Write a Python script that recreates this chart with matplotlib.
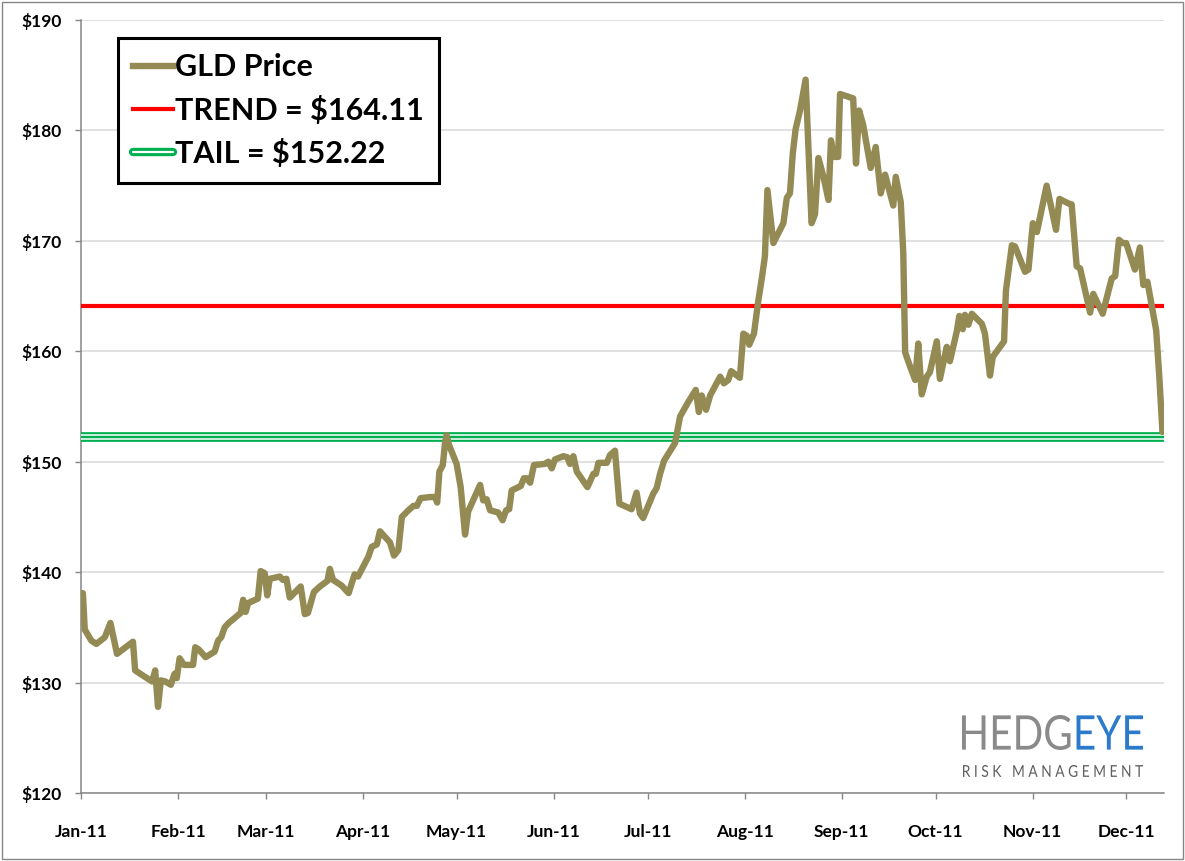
import matplotlib
matplotlib.use("Agg")
import matplotlib.pyplot as plt
from matplotlib.lines import Line2D
from matplotlib.patches import Rectangle, PathPatch
from matplotlib.textpath import TextPath
from matplotlib.font_manager import FontProperties
from matplotlib.transforms import Affine2D
import matplotlib.patheffects as pe
import pandas as pd
import numpy as np

# ---- data ----
start_date = "2011-01-01"
day_offsets = [
    0.6, 1.2, 3.3, 4.9, 7.6, 9.4, 11.5, 16.6, 17.3, 22.7, 23.7, 24.6, 25.5, 26.9, 28.7, 29.9,
    30.6, 31.5, 32.9, 35.8, 36.5, 37.6, 39.8, 42.7, 43.8, 44.8, 45.9, 47.2, 51.0, 51.8, 52.6,
    53.4, 56.5, 57.4, 58.7, 59.5, 60.3, 63.5, 64.5, 65.6, 66.7, 70.2, 71.5, 72.5, 74.4, 76.3,
    78.7, 79.5, 80.5, 83.2, 85.5, 87.4, 88.5,
    91.8, 92.9, 94.5, 95.5, 98.7, 100.0, 101.4, 102.5, 104.6, 106.2, 107.3, 108.5, 111.5,
    113.1, 113.8, 114.5, 115.6, 116.3, 116.8, 117.6, 120.0, 121.3, 122.7, 123.7, 125.9, 127.5,
    128.5, 129.6, 130.7, 133.3, 134.7, 135.8, 136.8, 137.6, 140.5, 141.5, 142.4, 143.5, 144.7,
    148.2, 149.3, 150.4, 151.4, 154.1, 155.4, 156.2, 157.3, 158.4, 161.8, 163.7, 164.5, 165.3,
    168.0, 169.0, 170.6, 172.0, 175.9, 177.5, 178.6, 179.6, 182.8, 183.9, 185.0, 186.3,
    189.8, 191.4, 194.0, 196.4, 197.4, 198.3, 199.7, 201.0, 204.2, 205.4, 206.8, 207.7, 210.5,
    211.6, 212.7, 213.5, 215.0, 216.4, 217.5, 218.5, 219.3, 221.2, 224.4, 225.5, 226.5, 227.4,
    228.3, 229.7, 231.5, 233.4, 234.5, 235.6, 237.2, 238.8, 239.6, 240.6, 241.9, 242.5, 246.7,
    247.6, 248.6, 249.9, 252.3, 253.9, 255.5, 256.9, 259.5, 260.3, 261.9, 262.7,
    263.3, 264.9, 266.5, 267.5, 268.6, 270.2, 271.2, 273.4, 274.4, 276.6, 277.6, 279.8, 280.6,
    281.7, 282.4, 283.5, 284.6, 287.8, 288.8, 290.4, 291.3, 294.9, 295.5, 297.4, 298.4, 301.6,
    302.7, 304.1, 305.4, 308.5, 311.5, 312.6, 315.4, 316.5, 318.1, 319.2, 322.4, 323.4, 326.4,
    329.3, 330.4, 331.6, 332.8, 333.9, 336.7, 338.3, 339.4, 340.7, 343.5, 344.5, 345.5,
]
gld_price = [
    138.1, 134.8, 133.8, 133.5, 134.1, 135.4, 132.6, 133.7, 131.1, 130.1, 131.1, 127.8, 130.2,
    130.1, 129.8, 130.8, 130.4, 132.2, 131.6, 131.6, 133.2, 133.0, 132.3, 132.8, 133.8, 134.1,
    135.0, 135.4, 136.3, 137.5, 136.4, 137.2, 137.6, 140.1, 139.9, 137.9, 139.4, 139.6, 139.3,
    139.4, 137.7, 138.7, 136.2, 136.3, 138.2, 138.7, 139.2, 140.3, 139.3, 138.8, 138.1, 139.8,
    139.6,
    141.4, 142.3, 142.5, 143.7, 142.7, 141.5, 142.0, 145.0, 145.6, 146.0, 146.0, 146.7, 146.8,
    146.8, 146.3, 149.1, 149.7, 151.7, 152.4, 151.5, 149.8, 147.7, 143.4, 145.5, 146.9, 147.9,
    146.5, 146.6, 145.6, 145.4, 144.7, 145.6, 145.7, 147.4, 147.8, 148.5, 148.5, 148.1, 149.7,
    149.8, 150.0, 149.4, 150.2, 150.5, 150.4, 149.8, 150.5, 149.1, 147.7, 148.9, 148.9, 149.9,
    149.9, 150.6, 151.0, 146.2, 145.7, 147.2, 145.3, 144.9, 147.1, 147.6, 148.9, 150.1,
    151.7, 154.1, 155.4, 156.5, 154.5, 156.0, 154.7, 156.0, 157.7, 157.1, 157.4, 158.2, 157.6,
    161.6, 161.4, 160.6, 161.6, 164.6, 166.6, 168.6, 174.6, 169.8, 171.6, 173.9, 174.3, 177.9,
    180.1, 181.8, 184.6, 171.6, 172.4, 177.5, 175.8, 173.7, 179.1, 177.6, 177.6, 183.3, 182.9,
    177.0, 181.8, 180.5, 176.6, 178.5, 174.3, 176.0, 173.2, 175.8, 173.5, 168.9,
    159.9, 158.6, 157.4, 160.7, 156.1, 157.7, 158.1, 160.9, 157.5, 160.4, 159.1, 161.8, 163.2,
    162.0, 163.3, 162.4, 163.4, 162.5, 161.6, 157.8, 159.5, 160.9, 165.5, 169.6, 169.5, 167.2,
    167.4, 171.6, 170.8, 175.0, 171.0, 173.8, 173.4, 173.3, 167.7, 167.5, 163.5, 165.2, 163.4,
    166.6, 166.8, 170.1, 169.8, 169.8, 167.4, 169.4, 166.0, 166.3, 161.9, 157.7, 152.7,
]
trend_level = 164.11
tail_level = 152.22
series_labels = ["GLD Price", "TREND = $164.11", "TAIL = $152.22"]
month_labels = ["Jan-11", "Feb-11", "Mar-11", "Apr-11", "May-11", "Jun-11",
                "Jul-11", "Aug-11", "Sep-11", "Oct-11", "Nov-11", "Dec-11"]
y_ticks = [120, 130, 140, 150, 160, 170, 180, 190]
x_end_days = 346.0

# ---- figure ----
W, H = 1185, 861
fig = plt.figure(figsize=(W / 100, H / 100), dpi=100)
fig.patch.set_facecolor("white")
font = "Lato"

ax = fig.add_axes([81 / W, 1 - 793 / H, (1164 - 81) / W, (793 - 20) / H])

t0 = pd.Timestamp(start_date)
dates = t0 + pd.to_timedelta(np.array(day_offsets), unit="D")
x_end = t0 + pd.Timedelta(days=x_end_days)

gold = "#948A54"
green = "#00B050"
ax.plot(dates, gld_price, color=gold, lw=4.6, solid_joinstyle="round",
        solid_capstyle="round", zorder=5)
ax.axhline(trend_level, color="#FF0000", lw=3.0, zorder=4)
# TAIL: compound green line with white stripes
ax.axhline(tail_level, color=green, lw=7.0, zorder=3)
for off in (-0.16, 0.24):
    ax.axhline(tail_level + off, color="white", lw=1.1, zorder=3.5)

ax.set_ylim(120, 190)
ax.set_xlim(t0, x_end)
ax.set_yticks(y_ticks)
ax.set_yticklabels([f"${v}" for v in y_ticks])
month_starts = pd.date_range("2011-01-01", periods=12, freq="MS")
ax.set_xticks(month_starts)
ax.set_xticklabels(month_labels)

ax.grid(axis="y", color="#D9D9D9", lw=1.1)
ax.set_axisbelow(True)
for s in ("top", "right"):
    ax.spines[s].set_visible(False)
for s in ("left", "bottom"):
    ax.spines[s].set_color("#868686")
    ax.spines[s].set_linewidth(1.1)
ax.tick_params(axis="y", length=4, width=1, color="#868686", pad=10,
               labelsize=12.5)
ax.tick_params(axis="x", length=4.5, width=1, color="#868686", pad=18,
               labelsize=12.5)
for lab in ax.get_xticklabels() + ax.get_yticklabels():
    lab.set_fontfamily(font)
    lab.set_fontweight("bold")

# ---- legend ----
h_gld = Line2D([], [], color=gold, lw=4.6)
h_trend = Line2D([], [], color="#FF0000", lw=3.0)
h_tail = Line2D([], [], color="white", lw=1.6, solid_capstyle="round",
                path_effects=[pe.Stroke(linewidth=6.0, foreground=green,
                                        capstyle="round"), pe.Normal()])
leg = fig.legend([h_gld, h_trend, h_tail], series_labels,
                 loc="upper left", bbox_to_anchor=(118 / W, 1 - 38 / H),
                 frameon=True, fancybox=False, framealpha=1,
                 edgecolor="black", handlelength=1.3, handletextpad=0.08,
                 borderpad=0.5, labelspacing=0.47, borderaxespad=0,
                 prop={"family": font, "weight": "bold", "size": 22})
leg.get_frame().set_linewidth(2.2)
leg.set_zorder(10)


# ---- logo (text paths fitted into the logo's box) ----
def fitted_text(s, x0, x1, ytop, ybot, parts):
    fp = FontProperties(family=font)
    full = TextPath((0, 0), s, size=10, prop=fp)
    ext = full.get_extents()
    sx = (x1 - x0) / ext.width
    sy = (ybot - ytop) / ext.height
    tr = (Affine2D().translate(-ext.x0, -ext.y0).scale(sx, sy)
          .translate(x0, H - ybot).scale(1 / W, 1 / H) + fig.transFigure)
    ref_i = TextPath((0, 0), "I", size=10, prop=fp).get_extents().x1
    offset = 0.0
    consumed = ""
    for txt, col in parts:
        p = TextPath((offset, 0), txt, size=10, prop=fp)
        fig.patches.append(PathPatch(p, transform=tr, facecolor=col,
                                     edgecolor="none", zorder=20))
        consumed += txt
        offset = TextPath((0, 0), consumed + "I", size=10,
                          prop=fp).get_extents().x1 - ref_i


fitted_text("HEDGEYE", 962, 1143, 715, 750,
            [("HEDG", "#8A8A8A"), ("EYE", "#2C7ACB")])
fitted_text("R I S K   M A N A G E M E N T", 963, 1143, 765, 777,
            [("R I S K   M A N A G E M E N T", "#5E5E5E")])

# outer border
fig.patches.append(Rectangle((2 / W, 2 / H), (W - 4) / W, (H - 4) / H,
                             transform=fig.transFigure, fill=False,
                             edgecolor="#868686", lw=1.0))

fig.savefig("out.png", dpi=100, facecolor="white")
